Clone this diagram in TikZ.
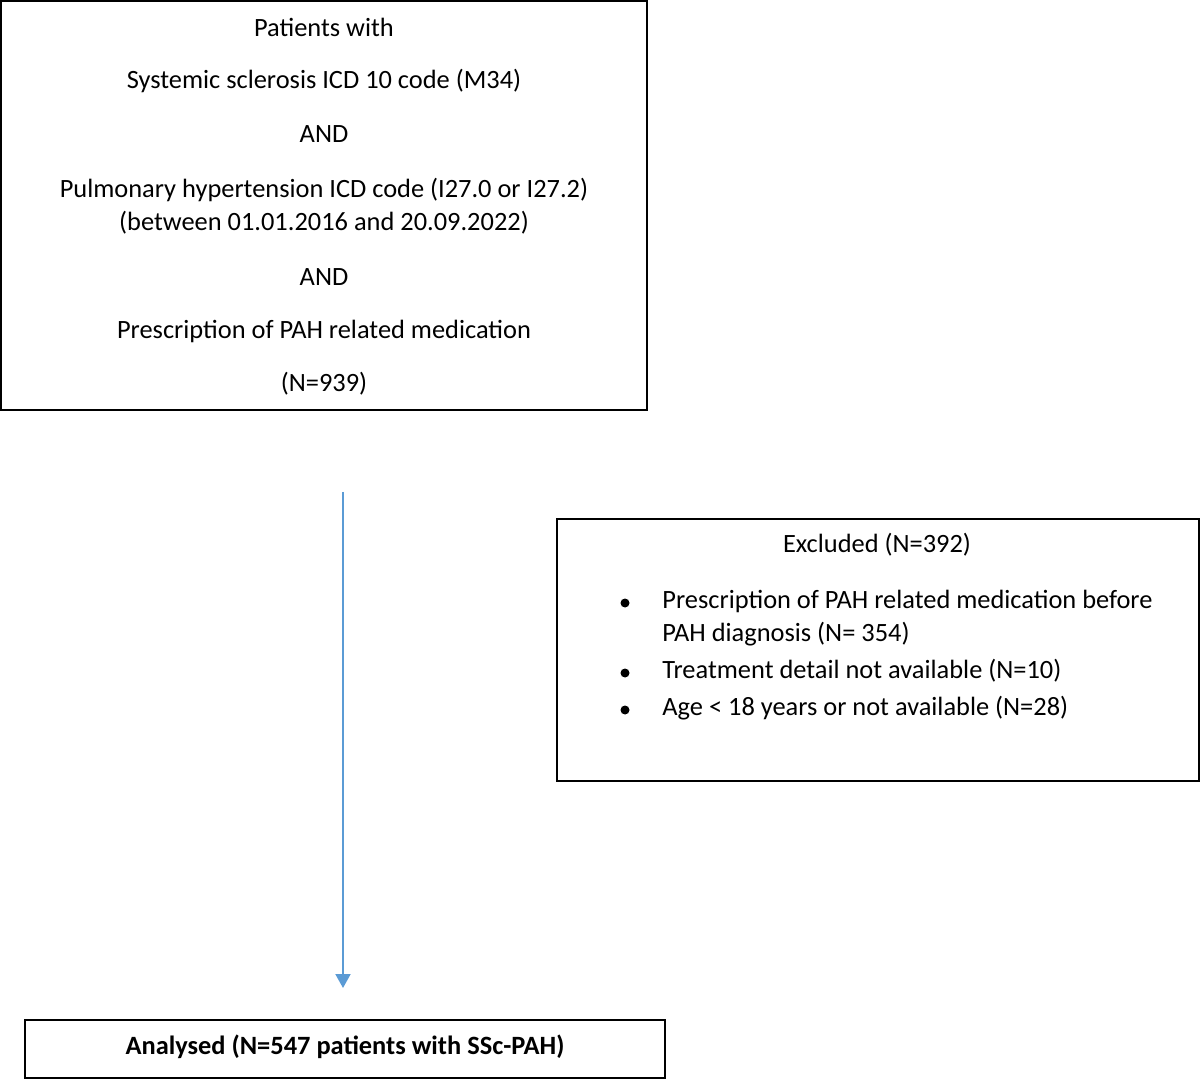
\documentclass[tikz,border=0pt]{standalone}
\usepackage{fontspec}
\setmainfont{Carlito}
\usetikzlibrary{arrows.meta}
\definecolor{arrowblue}{HTML}{5B9BD5}
\begin{document}
\begin{tikzpicture}[x=0.5pt,y=-0.5pt,
  box/.style={draw=black,line width=0.75pt,fill=none,inner sep=0pt},
  txt/.style={inner sep=0pt,font=\fontsize{13.2}{16}\selectfont,anchor=center},
  ltxt/.style={inner sep=0pt,font=\fontsize{13.2}{16}\selectfont,anchor=west},
  bul/.style={circle,fill=black,inner sep=0pt,minimum size=4.5pt},
  flow/.style={draw=arrowblue,line width=1pt,-{Triangle[length=7pt,width=7.5pt]}}]
\useasboundingbox (0,0) rectangle (1200,1080);
% top box
\draw[box] (1,1) rectangle (647,410);
\node[txt] (t1) at (324,27) {Patients with};
\node[txt] (t2) at (324,81) {Systemic sclerosis ICD 10 code (M34)};
\node[txt] (t3) at (324,134) {AND};
\node[txt] (t4) at (324,190) {Pulmonary hypertension ICD code (I27.0 or I27.2)};
\node[txt] (t5) at (324,223) {(between 01.01.2016 and 20.09.2022)};
\node[txt] (t6) at (324,277) {AND};
\node[txt] (t7) at (324,331) {Prescription of PAH related medication};
\node[txt] (t8) at (324,384) {(N=939)};
% excluded box
\draw[box] (557,519) rectangle (1199,781);
\node[txt] (e0) at (877,545) {Excluded (N=392)};
\node[bul] (b1) at (625,603) {};
\node[bul] (b2) at (625,673) {};
\node[bul] (b3) at (625,710) {};
\node[ltxt] (e1) at (662,601) {Prescription of PAH related medication before};
\node[ltxt] (e2) at (662,634) {PAH diagnosis (N= 354)};
\node[ltxt] (e3) at (662,671) {Treatment detail not available (N=10)};
\node[ltxt] (e4) at (662,708) {Age < 18 years or not available (N=28)};
% bottom box
\draw[box] (25,1020) rectangle (665,1078);
\node[txt,font=\fontsize{13.2}{16}\selectfont\bfseries] (a1) at (345,1047) {Analysed (N=547 patients with SSc-PAH)};
% arrow
\coordinate (s) at (343,492);
\coordinate (e) at (343,988);
\draw[flow] (s) -- (e);
\end{tikzpicture}
\end{document}
